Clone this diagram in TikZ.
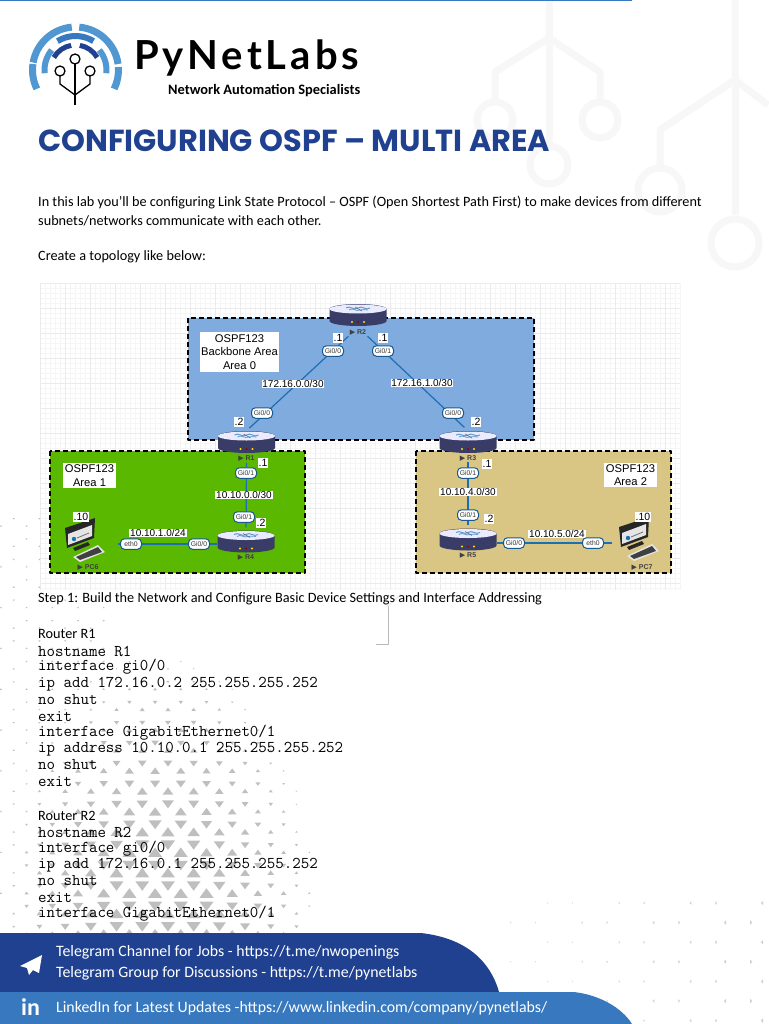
\documentclass[tikz,border=0pt]{standalone}
\usepackage{fontspec}
\setmainfont{Carlito}
\newfontfamily\titlefont{Poppins}
\newfontfamily\logofont{Lato}
\newfontfamily\labelfont{Liberation Sans}
\newfontfamily\symfont{DejaVu Sans}
\usetikzlibrary{arrows}
\definecolor{navy}{HTML}{1F418F}
\definecolor{midblue}{HTML}{3878BE}
\definecolor{logolight}{HTML}{5197D2}
\definecolor{areablue}{HTML}{7FABDF}
\definecolor{areagreen}{HTML}{5BB800}
\definecolor{areatan}{HTML}{D9C684}
\definecolor{linkblue}{HTML}{1B6FB5}
\definecolor{routerbody}{HTML}{3A3C68}
\tikzset{
	txt/.style={anchor=west,inner sep=0pt,font=\fontsize{14.25}{16}\selectfont},
	cmdline/.style={anchor=west,inner sep=0pt,font=\fontsize{16.45}{18}\ttfamily},
	foot/.style={anchor=west,inner sep=0pt,text=white,font=\fontsize{15.85}{20}\selectfont},
	area/.style={line width=1.5pt,dash pattern=on 5pt off 3pt,draw=black},
	areabox/.style={fill=white,inner sep=1.5pt,align=center,font=\labelfont\fontsize{11.2}{13.4}\selectfont},
	net/.style={fill=white,inner sep=0.8pt,font=\labelfont\fontsize{10}{12}\selectfont},
	addr/.style={fill=white,inner sep=1pt,font=\labelfont\fontsize{10.5}{12}\selectfont},
	pill/.style={fill=white,draw=linkblue!80!black,rounded corners=4pt,line width=1pt,inner sep=1pt,minimum width=21pt,minimum height=10.5pt,text=black!80,font=\labelfont\fontsize{6.8}{8}\selectfont},
	devlab/.style={inner sep=0.5pt,text=black!75,font=\labelfont\bfseries\fontsize{7}{8}\selectfont},
	link/.style={line width=1.2pt,draw=linkblue},
	tridot/.style={fill=black!25},
	speck/.style={fill=black!18},
	water/.style={line width=7pt,draw=black!3},
}
\newcommand{\routernet}[4]{
	\node (#1) at (#2,#3) [minimum width=57pt,minimum height=22pt,inner sep=0pt] {};
	\begin{scope}[shift={(#2,#3)},x=1pt,y=1pt]
		\fill [routerbody] (-28.5,6) -- (-28.5,-6) arc[start angle=180,end angle=360,x radius=28.5,y radius=5] -- (28.5,6) arc[start angle=0,end angle=180,x radius=28.5,y radius=5] -- cycle;
		\fill [white!92!blue] (0,6) ellipse [x radius=28.5,y radius=4.5];
		\draw [line width=1pt,linkblue!70] (-12,7) .. controls (-8,10) and (-4,4) .. (0,7) .. controls (4,10) and (8,4) .. (12,7);
		\draw [line width=0.8pt,linkblue!70] (-9,5) .. controls (-5,8) and (-2,3) .. (2,5) .. controls (5,7) and (7,4) .. (10,5);
		\draw [line width=0.6pt,black!60] (-3,8) -- (4,4);
		\fill [yellow!80!orange] (-6,-7) circle (1.1);
		\fill [red!60!black] (0,-7) circle (1.1);
		\fill [yellow!80!orange] (6,-7) circle (1.1);
	\end{scope}
	\node (#1lab) at (#2,{#3+#4}) [devlab] {{\symfont ▶} #1};
}
\newcommand{\pcnet}[4]{
	\node (#1) at (#2,#3) [minimum width=60pt,minimum height=10pt,inner sep=0pt] {};
	\begin{scope}[shift={(#2,#3)}]
		\fill [black!85] (-23,-16) -- (7,-26) -- (6,-6) -- (-21,4) -- cycle;
		\fill [black!10] (-20,-10) -- (4,-19) -- (4,-8) -- (-20,1) -- cycle;
		\fill [linkblue] (-14,-5) circle (2.2);
		\draw [line width=0.8pt,black!55] (-11,-6) -- (1,-11);
		\fill [black!85] (-15,4) -- (0,-2) -- (2,1) -- (-13,7) -- cycle;
		\fill [white!90!black] (-15,13) -- (10,1) -- (17,8) -- (-8,18) -- cycle;
		\fill [black!75] (-12,13) -- (10,3) -- (14,8) -- (-8,16) -- cycle;
	\end{scope}
	\node (#1lab) at ({#2+#4},567) [devlab] {{\symfont ▶} #1};
}
\begin{document}
\begin{tikzpicture}[line cap=butt,line join=round,x=1pt,y=-1pt]
	\useasboundingbox (0,0) rectangle (768,1024);
	\fill [white] (0,0) rectangle (768,1024);
	% watermark
	\draw [water] (549,0) -- (549,38) -- (495,72) -- (495,100);
	\draw [water] (549,38) -- (600,72) -- (600,100);
	\draw [water] (549,0) -- (549,145);
	\draw [water] (495,120) circle (18);
	\draw [water] (600,120) circle (18);
	\draw [water] (549,165) circle (19);
	\draw [water] (735,0) -- (735,80) -- (660,130) -- (660,170);
	\draw [water] (735,80) -- (768,105);
	\draw [water] (735,80) -- (735,215);
	\draw [water] (660,190) circle (22);
	\draw [water] (735,243) circle (24);
	\draw [line width=1pt,black!28] (388,606) -- (388,644) -- (376,644);
	\draw [line width=1pt,black!8] (375,594) -- (388,606) -- (401,594);
	% triangles
	\foreach \n in {-18,...,2}{
		\foreach \k in {-3,...,12}{
			\pgfmathsetmacro{\off}{12.85*mod(abs(\n),2)}
			\pgfmathsetmacro{\ux}{78+\off+25.7*\k}
			\pgfmathsetmacro{\uy}{893+20.4*\n}
			\pgfmathsetmacro{\us}{min(7,10*(1-sqrt(((\ux-160)/170)^2+((\uy-925)/290)^2)))}
			\pgfmathsetmacro{\us}{(\ux<110 && \us<1.1) ? 1.1 : \us}
			\ifdim \us pt>0.6pt
				\fill [tridot] ({\ux-\us},{\uy+0.68*\us}) -- ({\ux+\us},{\uy+0.68*\us}) -- (\ux,{\uy-0.68*\us}) -- cycle;
			\fi
			\pgfmathsetmacro{\downx}{\ux+12.85}
			\pgfmathsetmacro{\downy}{\uy-7}
			\pgfmathsetmacro{\ds}{min(7,10*(1-sqrt(((\downx-160)/170)^2+((\downy-925)/290)^2)))}
			\pgfmathsetmacro{\ds}{(\downx<110 && \ds<1.1) ? 1.1 : \ds}
			\ifdim \ds pt>0.6pt
				\fill [tridot] ({\downx-\ds},{\downy-0.68*\ds}) -- ({\downx+\ds},{\downy-0.68*\ds}) -- (\downx,{\downy+0.68*\ds}) -- cycle;
			\fi
		}
	}
	\foreach \k in {0,...,3}{
		\foreach \n in {0,...,6}{
			\pgfmathsetmacro{\mx}{548+71.7*\k-37*mod(\n,2)}
			\pgfmathsetmacro{\my}{903+19.6*\n}
			\pgfmathsetmacro{\ms}{0.9+0.45*\k}
			\fill [speck] (\mx,{\my-\ms}) -- ({\mx-\ms},\my) -- (\mx,{\my+\ms}) -- cycle;
			\fill [speck] ({\mx+24},{\my-\ms}) -- ({\mx+24+\ms},\my) -- ({\mx+24},{\my+\ms}) -- cycle;
		}
	}
	% top rule and logo
	\fill [midblue] (0,0) rectangle (632,1.5);
	\begin{scope}[shift={(75.5,70)},x=1pt,y=1pt]
		\foreach \a/\b in {95/170,172/206,85/8,4/-26}{
			\draw [line width=7pt,logolight] (\a:43) arc[start angle=\a,end angle=\b,radius=43];
		}
		\draw [line width=6pt,midblue] (58:34) arc[start angle=58,end angle=122,radius=34];
		\foreach \a/\b in {140/186,40/-6}{
			\draw [line width=6pt,logolight] (\a:31) arc[start angle=\a,end angle=\b,radius=31];
		}
		\foreach \a/\b in {100/150,80/30}{
			\draw [line width=5pt,navy] (\a:25) arc[start angle=\a,end angle=\b,radius=25];
		}
	\end{scope}
	\draw [line width=1.3pt,black] (75,59) circle (5);
	\draw [line width=1.3pt,black] (60,71) circle (5);
	\draw [line width=1.3pt,black] (90,71) circle (5);
	\draw [line width=1.3pt,black] (75,64) -- (75,105);
	\draw [line width=1.3pt,black] (60,76) -- (60,84) -- (75,95) -- (90,84) -- (90,76);
	\node (brand) at (134,58) [anchor=west,inner sep=0pt,font=\logofont\bfseries\fontsize{40}{44}\selectfont] {\addfontfeatures{LetterSpace=10}PyNetLabs};
	\node (tagline) at (168,91) [anchor=west,inner sep=0pt,font=\bfseries\fontsize{14.4}{16}\selectfont] {Network Automation Specialists};
	\node (title) at (38,141) [anchor=west,inner sep=0pt,text=navy,font=\titlefont\bfseries\fontsize{30.4}{34}\selectfont] {CONFIGURING OSPF – MULTI AREA};
	\node (intro) at (38,203) [txt] {In this lab you’ll be configuring Link State Protocol – OSPF (Open Shortest Path First) to make devices from different};
	\node (introb) at (38,221) [txt] {subnets/networks communicate with each other.};
	\node (create) at (38,257) [txt] {Create a topology like below:};
	% topology
	\fill [white] (40,283) rectangle (680,590);
	\foreach \i in {0,...,128}{
		\draw [line width=0.3pt,black!4] ({40+5*\i},283) -- ({40+5*\i},590);
	}
	\foreach \j in {0,...,61}{
		\draw [line width=0.3pt,black!4] (40,{283+5*\j}) -- (680,{283+5*\j});
	}
	\foreach \i in {0,...,25}{
		\draw [line width=0.4pt,black!8] ({40+25*\i},283) -- ({40+25*\i},590);
	}
	\foreach \j in {0,...,12}{
		\draw [line width=0.4pt,black!8] (40,{283+25*\j}) -- (680,{283+25*\j});
	}
	\draw [area,fill=areablue] (188,318) rectangle (534,440);
	\draw [area,fill=areagreen] (50,451) rectangle (305,573);
	\draw [area,fill=areatan] (416,451) rectangle (671,573);
	\routernet{R2}{358}{315}{17}
	\routernet{R1}{246.5}{442}{17}
	\routernet{R3}{468}{442}{16}
	\routernet{R4}{246}{541.5}{16.5}
	\routernet{R5}{468}{539.5}{16.5}
	\pcnet{PC6}{88}{544}{0}
	\pcnet{PC7}{642}{543}{0}
	\draw [link,shorten <=1pt,shorten >=4pt] (R2lab.south west) -- (R1.north);
	\draw [link,shorten <=1pt,shorten >=5pt] (R2lab.south east) -- (R3.north);
	\draw [link,shorten >=3pt] (R1lab.south) -- (R4.north);
	\draw [link,shorten >=3pt] (R3lab.south) -- (R5.north);
	\draw [link] (PC6.east) -- (PC6.east -| R4.west);
	\draw [link] (PC7.west) -- (PC7.west -| R5.east);
	\node (backbone) at (239.5,352) [areabox,minimum width=79pt,minimum height=40pt] {OSPF123\\Backbone Area\\Area 0};
	\node (areaone) at (89.5,475.5) [areabox,minimum width=51pt,minimum height=25pt] {OSPF123\\Area 1};
	\node (areatwo) at (630.5,475) [areabox,minimum width=51pt,minimum height=24pt] {OSPF123\\Area 2};
	\node (neta) at (293,384) [net] {172.16.0.0/30};
	\node (netb) at (422,383) [net] {172.16.1.0/30};
	\node (netc) at (244,495) [net] {10.10.0.0/30};
	\node (netd) at (158,533) [net] {10.10.1.0/24};
	\node (nete) at (468,492) [net] {10.10.4.0/30};
	\node (netf) at (557,534) [net] {10.10.5.0/24};
	\node (gia) at (333,351) [pill] {Gi0/0};
	\node (gib) at (262,413) [pill] {Gi0/0};
	\node (gic) at (383,351) [pill] {Gi0/1};
	\node (gid) at (453,413) [pill] {Gi0/0};
	\node (gie) at (246,473) [pill] {Gi0/1};
	\node (gif) at (244,517) [pill] {Gi0/1};
	\node (gig) at (199,544) [pill] {Gi0/0};
	\node (gih) at (131,544) [pill] {eth0};
	\node (gii) at (468,473) [pill] {Gi0/1};
	\node (gij) at (468,515) [pill] {Gi0/1};
	\node (gik) at (514,543) [pill] {Gi0/0};
	\node (gil) at (593,543) [pill] {eth0};
	\node (ada) at (338,338) [addr] {.1};
	\node (adb) at (239,422) [addr] {.2};
	\node (adc) at (383,338) [addr] {.1};
	\node (add) at (476,422) [addr] {.2};
	\node (ade) at (263,463) [addr] {.1};
	\node (adf) at (261,523) [addr] {.2};
	\node (adg) at (81,517) [addr] {.10};
	\node (adh) at (487,464) [addr] {.1};
	\node (adi) at (489,519) [addr] {.2};
	\node (adj) at (643,517) [addr] {.10};
	% steps and commands
	\node (step) at (38,599) [txt] {Step 1: Build the Network and Configure Basic Device Settings and Interface Addressing};
	\node (routerone) at (38,634) [txt] {Router R1};
	\node (routertwo) at (38,816) [txt] {Router R2};
	\foreach \y/\cmdtext [count=\c] in {651/hostname R1,667/{interface gi0/0},684/ip add 172.16.0.2 255.255.255.252,700/no shut,717/exit,733/{interface GigabitEthernet0/1},749/ip address 10.10.0.1 255.255.255.252,765/no shut,782/exit,832/hostname R2,849/{interface gi0/0},865/ip add 172.16.0.1 255.255.255.252,881/no shut,898/exit,914/{interface GigabitEthernet0/1}}{
		\node (cmd\c) at (38,\y) [cmdline] {\cmdtext};
	}
	% footer
	\fill [navy] (0,933) -- (421,933) .. controls (465,938) and (490,960) .. (499,992) -- (0,992) -- cycle;
	\fill [midblue] (0,992) -- (574,992) .. controls (600,995) and (622,1008) .. (632,1024) -- (0,1024) -- cycle;
	\fill [white] (42,955) -- (20,966) -- (27,968) -- (29,975) -- (33,970) -- (39,973) -- cycle;
	\node (teljobs) at (56,952) [foot] {Telegram Channel for Jobs - https://t.me/nwopenings};
	\node (telgroup) at (56,973) [foot] {Telegram Group for Discussions - https://t.me/pynetlabs};
	\node (inmark) at (21,1007) [anchor=west,inner sep=0pt,text=white,font=\bfseries\fontsize{24}{26}\selectfont] {in};
	\node (linkedin) at (56,1008) [foot] {LinkedIn for Latest Updates -https://www.linkedin.com/company/pynetlabs/};
\end{tikzpicture}
\end{document}
